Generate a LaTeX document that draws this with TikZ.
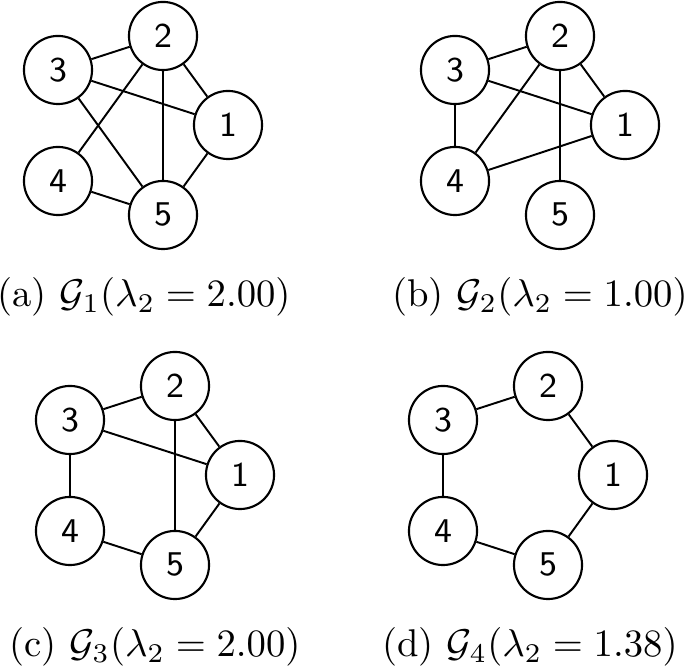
\documentclass[tikz,border=0pt]{standalone}
\usetikzlibrary{positioning}
\begin{document}
\begin{tikzpicture}[x=0.2585pt, y=-0.2585pt,
        vertex/.style={circle, draw=black, line width=0.55pt, minimum size=17.6pt, inner sep=0pt, font=\sffamily\small},
        edge/.style={draw=black, line width=0.5pt},
        caption/.style={anchor=base, font=\normalsize}]
    \useasboundingbox (0,0) rectangle (685,667);

    % (a)
    \begin{scope}[shift={(0,0)}]
        \node [vertex] (a3) at (58,70) {3};
        \node [vertex] (a2) at (163,36) {2};
        \node [vertex] (a1) at (228,125) {1};
        \node [vertex] (a4) at (58,181) {4};
        \node [vertex] (a5) at (163,215) {5};
        \path [edge] (a2) -- (a3);
        \path [edge] (a2) -- (a1);
        \path [edge] (a2) -- (a4);
        \path [edge] (a2) -- (a5);
        \path [edge] (a3) -- (a1);
        \path [edge] (a3) -- (a5);
        \path [edge] (a4) -- (a5);
        \path [edge] (a1) -- (a5);
    \end{scope}
    \node [caption] (capa) at (144,307) {(a) $\mathcal{G}_1(\lambda_2 = 2.00)$};

    % (b)
    \begin{scope}[shift={(397,0)}]
        \node [vertex] (b3) at (58,70) {3};
        \node [vertex] (b2) at (163,36) {2};
        \node [vertex] (b1) at (228,125) {1};
        \node [vertex] (b4) at (58,181) {4};
        \node [vertex] (b5) at (163,215) {5};
        \path [edge] (b2) -- (b3);
        \path [edge] (b2) -- (b1);
        \path [edge] (b2) -- (b4);
        \path [edge] (b2) -- (b5);
        \path [edge] (b3) -- (b1);
        \path [edge] (b3) -- (b4);
        \path [edge] (b4) -- (b1);
    \end{scope}
    \node [caption] (capb) at (540,307) {(b) $\mathcal{G}_2(\lambda_2 = 1.00)$};

    % (c)
    \begin{scope}[shift={(12,350)}]
        \node [vertex] (c3) at (58,70) {3};
        \node [vertex] (c2) at (163,36) {2};
        \node [vertex] (c1) at (228,125) {1};
        \node [vertex] (c4) at (58,181) {4};
        \node [vertex] (c5) at (163,215) {5};
        \path [edge] (c2) -- (c3);
        \path [edge] (c2) -- (c1);
        \path [edge] (c2) -- (c5);
        \path [edge] (c3) -- (c1);
        \path [edge] (c3) -- (c4);
        \path [edge] (c4) -- (c5);
        \path [edge] (c1) -- (c5);
    \end{scope}
    \node [caption] (capc) at (155,657) {(c) $\mathcal{G}_3(\lambda_2 = 2.00)$};

    % (d)
    \begin{scope}[shift={(385,350)}]
        \node [vertex] (d3) at (58,70) {3};
        \node [vertex] (d2) at (163,36) {2};
        \node [vertex] (d1) at (228,125) {1};
        \node [vertex] (d4) at (58,181) {4};
        \node [vertex] (d5) at (163,215) {5};
        \path [edge] (d2) -- (d3);
        \path [edge] (d2) -- (d1);
        \path [edge] (d3) -- (d4);
        \path [edge] (d4) -- (d5);
        \path [edge] (d1) -- (d5);
    \end{scope}
    \node [caption] (capd) at (530,657) {(d) $\mathcal{G}_4(\lambda_2 = 1.38)$};
\end{tikzpicture}
\end{document}
